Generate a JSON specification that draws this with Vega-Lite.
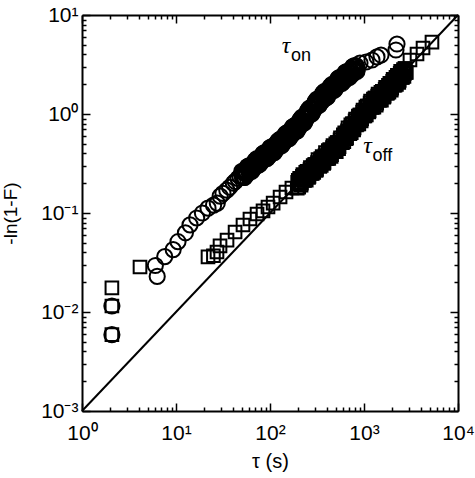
{
  "$schema": "https://vega.github.io/schema/vega-lite/v6.json",
  "width": 376,
  "height": 396,
  "autosize": {"type": "none"},
  "padding": {"left": 82, "top": 15, "right": 17, "bottom": 67},
  "background": "white",
  "datasets": {
    "on": [
      {"t": 2.08, "f": 0.0059}, {"t": 2.08, "f": 0.0115},
      {"t": 6.31, "f": 0.0229}, {"t": 6.03, "f": 0.0295}, {"t": 7.59, "f": 0.0363}, {"t": 9.33, "f": 0.0427},
      {"t": 10.5, "f": 0.0513}, {"t": 12.6, "f": 0.0631}, {"t": 14.1, "f": 0.0759}, {"t": 16.6, "f": 0.0891},
      {"t": 19.1, "f": 0.1}, {"t": 21.9, "f": 0.112}, {"t": 25.1, "f": 0.12}, {"t": 27.5, "f": 0.126},
      {"t": 29.5, "f": 0.148}, {"t": 31.6, "f": 0.158}, {"t": 34.7, "f": 0.17}, {"t": 37.2, "f": 0.182},
      {"t": 40.7, "f": 0.2}, {"t": 42.7, "f": 0.209}, {"t": 45.7, "f": 0.224}, {"t": 47.9, "f": 0.234},
      {"t": 50.1, "f": 0.263}, {"t": 51.3, "f": 0.229}, {"t": 52.5, "f": 0.257}, {"t": 53.7, "f": 0.229},
      {"t": 55.0, "f": 0.269}, {"t": 56.2, "f": 0.251}, {"t": 57.5, "f": 0.295}, {"t": 58.9, "f": 0.275},
      {"t": 60.3, "f": 0.302}, {"t": 61.7, "f": 0.263}, {"t": 63.1, "f": 0.295}, {"t": 64.6, "f": 0.269},
      {"t": 66.1, "f": 0.309}, {"t": 67.6, "f": 0.288}, {"t": 69.2, "f": 0.339}, {"t": 70.8, "f": 0.316},
      {"t": 72.4, "f": 0.355}, {"t": 74.1, "f": 0.302}, {"t": 75.9, "f": 0.339}, {"t": 77.6, "f": 0.309},
      {"t": 79.4, "f": 0.363}, {"t": 81.3, "f": 0.339}, {"t": 83.2, "f": 0.389}, {"t": 85.1, "f": 0.363},
      {"t": 87.1, "f": 0.407}, {"t": 89.1, "f": 0.355}, {"t": 91.2, "f": 0.389}, {"t": 93.3, "f": 0.355},
      {"t": 95.5, "f": 0.417}, {"t": 97.7, "f": 0.389}, {"t": 100, "f": 0.457}, {"t": 102, "f": 0.417},
      {"t": 105, "f": 0.468}, {"t": 107, "f": 0.407}, {"t": 110, "f": 0.457}, {"t": 112, "f": 0.417},
      {"t": 115, "f": 0.49}, {"t": 117, "f": 0.457}, {"t": 120, "f": 0.525}, {"t": 123, "f": 0.49},
      {"t": 126, "f": 0.55}, {"t": 129, "f": 0.479}, {"t": 132, "f": 0.537}, {"t": 135, "f": 0.49},
      {"t": 138, "f": 0.575}, {"t": 141, "f": 0.537}, {"t": 145, "f": 0.617}, {"t": 148, "f": 0.575},
      {"t": 151, "f": 0.646}, {"t": 155, "f": 0.562}, {"t": 158, "f": 0.631}, {"t": 162, "f": 0.575},
      {"t": 166, "f": 0.676}, {"t": 170, "f": 0.631}, {"t": 174, "f": 0.741}, {"t": 178, "f": 0.676},
      {"t": 182, "f": 0.759}, {"t": 186, "f": 0.661}, {"t": 191, "f": 0.741}, {"t": 195, "f": 0.676},
      {"t": 200, "f": 0.794}, {"t": 204, "f": 0.741}, {"t": 209, "f": 0.871}, {"t": 214, "f": 0.813},
      {"t": 219, "f": 0.933}, {"t": 224, "f": 0.813}, {"t": 229, "f": 0.912}, {"t": 234, "f": 0.832},
      {"t": 240, "f": 0.977}, {"t": 245, "f": 0.912}, {"t": 251, "f": 1.072}, {"t": 257, "f": 1.0},
      {"t": 263, "f": 1.148}, {"t": 269, "f": 1.0}, {"t": 275, "f": 1.122}, {"t": 282, "f": 1.023},
      {"t": 288, "f": 1.202}, {"t": 295, "f": 1.122}, {"t": 302, "f": 1.318}, {"t": 309, "f": 1.259},
      {"t": 316, "f": 1.413}, {"t": 324, "f": 1.23}, {"t": 331, "f": 1.38}, {"t": 339, "f": 1.259},
      {"t": 347, "f": 1.479}, {"t": 355, "f": 1.38}, {"t": 363, "f": 1.622}, {"t": 372, "f": 1.514},
      {"t": 380, "f": 1.698}, {"t": 389, "f": 1.445}, {"t": 398, "f": 1.622}, {"t": 407, "f": 1.479},
      {"t": 417, "f": 1.738}, {"t": 427, "f": 1.622}, {"t": 437, "f": 1.905}, {"t": 447, "f": 1.778},
      {"t": 457, "f": 1.995}, {"t": 468, "f": 1.738}, {"t": 479, "f": 1.95}, {"t": 490, "f": 1.778},
      {"t": 501, "f": 2.042}, {"t": 513, "f": 1.905}, {"t": 525, "f": 2.239}, {"t": 537, "f": 2.089},
      {"t": 550, "f": 2.344}, {"t": 562, "f": 2.042}, {"t": 575, "f": 2.291}, {"t": 589, "f": 2.089},
      {"t": 603, "f": 2.399}, {"t": 617, "f": 2.239}, {"t": 631, "f": 2.63}, {"t": 646, "f": 2.455},
      {"t": 661, "f": 2.692}, {"t": 676, "f": 2.344}, {"t": 692, "f": 2.63}, {"t": 708, "f": 2.399},
      {"t": 724, "f": 2.754}, {"t": 741, "f": 2.57}, {"t": 759, "f": 3.02}, {"t": 776, "f": 2.818},
      {"t": 794, "f": 3.09}, {"t": 813, "f": 2.692}, {"t": 832, "f": 3.02}, {"t": 851, "f": 2.884},
      {"t": 906, "f": 3.27}, {"t": 1050, "f": 3.35}, {"t": 1216, "f": 3.51}, {"t": 1374, "f": 3.77},
      {"t": 1517, "f": 3.94}, {"t": 2188, "f": 4.43}, {"t": 2244, "f": 5.09},
      {"t": 50.7, "f": 0.234}, {"t": 51.9, "f": 0.263}, {"t": 53.1, "f": 0.229}, {"t": 54.3, "f": 0.269},
      {"t": 55.6, "f": 0.263}, {"t": 56.9, "f": 0.245}, {"t": 58.2, "f": 0.295}, {"t": 59.6, "f": 0.263},
      {"t": 61.0, "f": 0.275}, {"t": 62.4, "f": 0.302}, {"t": 63.8, "f": 0.263}, {"t": 65.3, "f": 0.309},
      {"t": 66.8, "f": 0.302}, {"t": 68.4, "f": 0.288}, {"t": 70.0, "f": 0.339}, {"t": 71.6, "f": 0.302},
      {"t": 73.3, "f": 0.316}, {"t": 75.0, "f": 0.355}, {"t": 76.7, "f": 0.309}, {"t": 78.5, "f": 0.355},
      {"t": 80.3, "f": 0.347}, {"t": 82.2, "f": 0.331}, {"t": 84.1, "f": 0.398}, {"t": 86.1, "f": 0.355},
      {"t": 88.1, "f": 0.363}, {"t": 90.1, "f": 0.407}, {"t": 92.2, "f": 0.355}, {"t": 94.4, "f": 0.417},
      {"t": 96.6, "f": 0.398}, {"t": 98.9, "f": 0.38}, {"t": 101, "f": 0.457}, {"t": 104, "f": 0.407},
      {"t": 106, "f": 0.427}, {"t": 108, "f": 0.468}, {"t": 111, "f": 0.407}, {"t": 114, "f": 0.479},
      {"t": 116, "f": 0.468}, {"t": 119, "f": 0.447}, {"t": 122, "f": 0.537}, {"t": 124, "f": 0.479},
      {"t": 127, "f": 0.501}, {"t": 130, "f": 0.562}, {"t": 133, "f": 0.479}, {"t": 136, "f": 0.562},
      {"t": 140, "f": 0.55}, {"t": 143, "f": 0.525}, {"t": 146, "f": 0.631}, {"t": 150, "f": 0.562},
      {"t": 153, "f": 0.589}, {"t": 157, "f": 0.661}, {"t": 160, "f": 0.562}, {"t": 164, "f": 0.661},
      {"t": 168, "f": 0.646}, {"t": 172, "f": 0.617}, {"t": 176, "f": 0.741}, {"t": 180, "f": 0.661},
      {"t": 184, "f": 0.692}, {"t": 188, "f": 0.776}, {"t": 193, "f": 0.676}, {"t": 197, "f": 0.794},
      {"t": 202, "f": 0.776}, {"t": 207, "f": 0.741}, {"t": 211, "f": 0.891}, {"t": 216, "f": 0.794},
      {"t": 221, "f": 0.832}, {"t": 226, "f": 0.933}, {"t": 232, "f": 0.813}, {"t": 237, "f": 0.977},
      {"t": 243, "f": 0.955}, {"t": 248, "f": 0.912}, {"t": 254, "f": 1.096}, {"t": 260, "f": 0.977},
      {"t": 266, "f": 1.023}, {"t": 272, "f": 1.148}, {"t": 279, "f": 1.0}, {"t": 285, "f": 1.202},
      {"t": 292, "f": 1.175}, {"t": 299, "f": 1.122}, {"t": 305, "f": 1.349}, {"t": 313, "f": 1.202},
      {"t": 320, "f": 1.259}, {"t": 327, "f": 1.413}, {"t": 335, "f": 1.23}, {"t": 343, "f": 1.445},
      {"t": 351, "f": 1.413}, {"t": 359, "f": 1.349}, {"t": 367, "f": 1.622}, {"t": 376, "f": 1.445},
      {"t": 385, "f": 1.514}, {"t": 393, "f": 1.698}, {"t": 402, "f": 1.479}, {"t": 412, "f": 1.738},
      {"t": 422, "f": 1.698}, {"t": 432, "f": 1.622}, {"t": 442, "f": 1.905}, {"t": 452, "f": 1.698},
      {"t": 462, "f": 1.778}, {"t": 473, "f": 1.995}, {"t": 484, "f": 1.738}, {"t": 495, "f": 2.042},
      {"t": 507, "f": 1.995}, {"t": 519, "f": 1.905}, {"t": 531, "f": 2.291}, {"t": 543, "f": 2.042},
      {"t": 556, "f": 2.138}, {"t": 569, "f": 2.344}, {"t": 582, "f": 2.042}, {"t": 596, "f": 2.399},
      {"t": 610, "f": 2.344}, {"t": 624, "f": 2.188}, {"t": 638, "f": 2.63}, {"t": 653, "f": 2.344},
      {"t": 668, "f": 2.455}, {"t": 684, "f": 2.692}, {"t": 700, "f": 2.344}, {"t": 716, "f": 2.754},
      {"t": 732, "f": 2.692}, {"t": 750, "f": 2.512}, {"t": 767, "f": 3.02}, {"t": 785, "f": 2.692},
      {"t": 804, "f": 2.818}, {"t": 822, "f": 3.09}, {"t": 841, "f": 2.692}
    ],
    "off": [
      {"t": 2.08, "f": 0.0175}, {"t": 2.08, "f": 0.0115}, {"t": 2.08, "f": 0.0059}, {"t": 4.14, "f": 0.0285},
      {"t": 21.9, "f": 0.036}, {"t": 25, "f": 0.037}, {"t": 27.3, "f": 0.0404}, {"t": 29.4, "f": 0.0465},
      {"t": 34.9, "f": 0.0533}, {"t": 42.5, "f": 0.0643}, {"t": 51.6, "f": 0.0757}, {"t": 61.2, "f": 0.0869},
      {"t": 72.8, "f": 0.0977}, {"t": 84.3, "f": 0.105}, {"t": 95.2, "f": 0.115}, {"t": 108, "f": 0.126},
      {"t": 128, "f": 0.145}, {"t": 148, "f": 0.163}, {"t": 171, "f": 0.179},
      {"t": 195, "f": 0.178}, {"t": 200, "f": 0.214}, {"t": 204, "f": 0.195}, {"t": 209, "f": 0.219},
      {"t": 214, "f": 0.191}, {"t": 219, "f": 0.219}, {"t": 224, "f": 0.245}, {"t": 229, "f": 0.214},
      {"t": 234, "f": 0.214}, {"t": 240, "f": 0.257}, {"t": 245, "f": 0.234}, {"t": 251, "f": 0.263},
      {"t": 257, "f": 0.229}, {"t": 263, "f": 0.257}, {"t": 269, "f": 0.288}, {"t": 275, "f": 0.251},
      {"t": 282, "f": 0.251}, {"t": 288, "f": 0.302}, {"t": 295, "f": 0.275}, {"t": 302, "f": 0.309},
      {"t": 309, "f": 0.269}, {"t": 316, "f": 0.309}, {"t": 324, "f": 0.347}, {"t": 331, "f": 0.302},
      {"t": 339, "f": 0.295}, {"t": 347, "f": 0.355}, {"t": 355, "f": 0.324}, {"t": 363, "f": 0.363},
      {"t": 372, "f": 0.316}, {"t": 380, "f": 0.363}, {"t": 389, "f": 0.407}, {"t": 398, "f": 0.355},
      {"t": 407, "f": 0.355}, {"t": 417, "f": 0.427}, {"t": 427, "f": 0.38}, {"t": 437, "f": 0.427},
      {"t": 447, "f": 0.372}, {"t": 457, "f": 0.427}, {"t": 468, "f": 0.479}, {"t": 479, "f": 0.417},
      {"t": 490, "f": 0.417}, {"t": 501, "f": 0.501}, {"t": 513, "f": 0.457}, {"t": 525, "f": 0.513},
      {"t": 537, "f": 0.447}, {"t": 550, "f": 0.513}, {"t": 562, "f": 0.575}, {"t": 575, "f": 0.513},
      {"t": 589, "f": 0.513}, {"t": 603, "f": 0.617}, {"t": 617, "f": 0.562}, {"t": 631, "f": 0.631},
      {"t": 646, "f": 0.562}, {"t": 661, "f": 0.646}, {"t": 676, "f": 0.724}, {"t": 692, "f": 0.631},
      {"t": 708, "f": 0.631}, {"t": 724, "f": 0.776}, {"t": 741, "f": 0.708}, {"t": 759, "f": 0.794},
      {"t": 776, "f": 0.692}, {"t": 794, "f": 0.794}, {"t": 813, "f": 0.891}, {"t": 832, "f": 0.776},
      {"t": 851, "f": 0.794}, {"t": 871, "f": 0.955}, {"t": 891, "f": 0.871}, {"t": 912, "f": 0.977},
      {"t": 933, "f": 0.851}, {"t": 955, "f": 0.977}, {"t": 977, "f": 1.096}, {"t": 1000, "f": 0.955},
      {"t": 1023, "f": 0.955}, {"t": 1047, "f": 1.175}, {"t": 1072, "f": 1.072}, {"t": 1096, "f": 1.202},
      {"t": 1122, "f": 1.047}, {"t": 1148, "f": 1.202}, {"t": 1175, "f": 1.349}, {"t": 1202, "f": 1.175},
      {"t": 1230, "f": 1.175}, {"t": 1259, "f": 1.413}, {"t": 1288, "f": 1.288}, {"t": 1318, "f": 1.445},
      {"t": 1349, "f": 1.23}, {"t": 1380, "f": 1.413}, {"t": 1413, "f": 1.585}, {"t": 1445, "f": 1.38},
      {"t": 1479, "f": 1.38}, {"t": 1514, "f": 1.66}, {"t": 1549, "f": 1.514}, {"t": 1585, "f": 1.698},
      {"t": 1622, "f": 1.479}, {"t": 1660, "f": 1.698}, {"t": 1698, "f": 1.862}, {"t": 1738, "f": 1.622},
      {"t": 1778, "f": 1.622}, {"t": 1820, "f": 1.95}, {"t": 1862, "f": 1.778}, {"t": 1905, "f": 1.995},
      {"t": 1950, "f": 1.738}, {"t": 1995, "f": 1.995}, {"t": 2042, "f": 2.239}, {"t": 2089, "f": 1.95},
      {"t": 2138, "f": 1.95}, {"t": 2188, "f": 2.344}, {"t": 2239, "f": 2.138}, {"t": 2291, "f": 2.399},
      {"t": 2344, "f": 2.089}, {"t": 2399, "f": 2.399}, {"t": 2455, "f": 2.692}, {"t": 2512, "f": 2.344},
      {"t": 2570, "f": 2.344}, {"t": 2630, "f": 2.818}, {"t": 2692, "f": 2.57}, {"t": 2754, "f": 2.884},
      {"t": 2818, "f": 2.63},
      {"t": 3083, "f": 3.51}, {"t": 3664, "f": 4.04}, {"t": 4246, "f": 4.64}, {"t": 5285, "f": 5.33},
      {"t": 197, "f": 0.204}, {"t": 202, "f": 0.182}, {"t": 207, "f": 0.224}, {"t": 211, "f": 0.204},
      {"t": 216, "f": 0.2}, {"t": 221, "f": 0.234}, {"t": 226, "f": 0.219}, {"t": 232, "f": 0.214},
      {"t": 237, "f": 0.24}, {"t": 243, "f": 0.214}, {"t": 248, "f": 0.263}, {"t": 254, "f": 0.24},
      {"t": 260, "f": 0.234}, {"t": 266, "f": 0.275}, {"t": 272, "f": 0.263}, {"t": 279, "f": 0.257},
      {"t": 285, "f": 0.288}, {"t": 292, "f": 0.257}, {"t": 299, "f": 0.309}, {"t": 305, "f": 0.282},
      {"t": 313, "f": 0.275}, {"t": 320, "f": 0.324}, {"t": 327, "f": 0.309}, {"t": 335, "f": 0.302},
      {"t": 343, "f": 0.339}, {"t": 351, "f": 0.302}, {"t": 359, "f": 0.372}, {"t": 367, "f": 0.339},
      {"t": 376, "f": 0.324}, {"t": 385, "f": 0.38}, {"t": 393, "f": 0.363}, {"t": 402, "f": 0.355},
      {"t": 412, "f": 0.398}, {"t": 422, "f": 0.355}, {"t": 432, "f": 0.437}, {"t": 442, "f": 0.398},
      {"t": 452, "f": 0.389}, {"t": 462, "f": 0.457}, {"t": 473, "f": 0.437}, {"t": 484, "f": 0.417},
      {"t": 495, "f": 0.468}, {"t": 507, "f": 0.417}, {"t": 519, "f": 0.513}, {"t": 531, "f": 0.479},
      {"t": 543, "f": 0.468}, {"t": 556, "f": 0.55}, {"t": 569, "f": 0.525}, {"t": 582, "f": 0.513},
      {"t": 596, "f": 0.575}, {"t": 610, "f": 0.525}, {"t": 624, "f": 0.646}, {"t": 638, "f": 0.589},
      {"t": 653, "f": 0.575}, {"t": 668, "f": 0.676}, {"t": 684, "f": 0.661}, {"t": 700, "f": 0.646},
      {"t": 716, "f": 0.724}, {"t": 732, "f": 0.646}, {"t": 750, "f": 0.794}, {"t": 767, "f": 0.724},
      {"t": 785, "f": 0.724}, {"t": 804, "f": 0.851}, {"t": 822, "f": 0.813}, {"t": 841, "f": 0.794},
      {"t": 861, "f": 0.891}, {"t": 881, "f": 0.794}, {"t": 901, "f": 0.977}, {"t": 922, "f": 0.891},
      {"t": 944, "f": 0.891}, {"t": 966, "f": 1.047}, {"t": 988, "f": 1.0}, {"t": 1012, "f": 0.977},
      {"t": 1035, "f": 1.096}, {"t": 1059, "f": 0.977}, {"t": 1084, "f": 1.202}, {"t": 1109, "f": 1.096},
      {"t": 1135, "f": 1.072}, {"t": 1161, "f": 1.288}, {"t": 1189, "f": 1.23}, {"t": 1216, "f": 1.175},
      {"t": 1245, "f": 1.318}, {"t": 1274, "f": 1.175}, {"t": 1303, "f": 1.445}, {"t": 1334, "f": 1.318},
      {"t": 1365, "f": 1.288}, {"t": 1397, "f": 1.514}, {"t": 1429, "f": 1.445}, {"t": 1462, "f": 1.413},
      {"t": 1497, "f": 1.549}, {"t": 1532, "f": 1.38}, {"t": 1567, "f": 1.698}, {"t": 1604, "f": 1.549},
      {"t": 1641, "f": 1.514}, {"t": 1679, "f": 1.778}, {"t": 1718, "f": 1.698}, {"t": 1758, "f": 1.66},
      {"t": 1799, "f": 1.862}, {"t": 1841, "f": 1.66}, {"t": 1884, "f": 2.042}, {"t": 1928, "f": 1.862},
      {"t": 1972, "f": 1.82}, {"t": 2018, "f": 2.138}, {"t": 2065, "f": 2.042}, {"t": 2113, "f": 1.995},
      {"t": 2163, "f": 2.239}, {"t": 2213, "f": 1.995}, {"t": 2265, "f": 2.455}, {"t": 2317, "f": 2.239},
      {"t": 2371, "f": 2.188}, {"t": 2427, "f": 2.57}, {"t": 2483, "f": 2.455}, {"t": 2541, "f": 2.399},
      {"t": 2600, "f": 2.692}, {"t": 2661, "f": 2.399}, {"t": 2723, "f": 2.884}, {"t": 2786, "f": 2.63}
    ],
    "diag": [{"t": 1, "f": 0.001}, {"t": 10000, "f": 10}],
    "lab": [{"t": 148, "f": 4.86, "sub": "on"}, {"t": 1089, "f": 0.475, "sub": "off"}]
  },
  "layer": [
    {
      "data": {"name": "on"},
      "mark": {"type": "point", "shape": "circle", "filled": false, "color": "black", "strokeWidth": 2, "size": 230, "opacity": 1},
      "encoding": {
        "x": {
          "field": "t", "type": "quantitative",
          "scale": {"type": "log", "domain": [1, 10000], "nice": false},
          "axis": {
            "orient": "bottom", "title": "τ (s)",
            "values": [1, 2, 3, 4, 5, 6, 7, 8, 9, 10, 20, 30, 40, 50, 60, 70, 80, 90, 100, 200, 300, 400, 500, 600, 700, 800, 900, 1000, 2000, 3000, 4000, 5000, 6000, 7000, 8000, 9000, 10000],
            "labelExpr": "datum.value == 1 ? '10⁰' : datum.value == 10 ? '10¹' : datum.value == 100 ? '10²' : datum.value == 1000 ? '10³' : datum.value == 10000 ? '10⁴' : ''",
            "tickSize": {"condition": {"test": "abs(log(datum.value) / LN10 - round(log(datum.value) / LN10)) < 0.0001", "value": -8}, "value": -4},
            "labelPadding": 19, "titlePadding": 4, "titleColor": "black"
          }
        },
        "y": {
          "field": "f", "type": "quantitative",
          "scale": {"type": "log", "domain": [0.001, 10], "nice": false},
          "axis": {
            "orient": "left", "title": "-ln(1-F)",
            "values": [0.001, 0.002, 0.003, 0.004, 0.005, 0.006, 0.007, 0.008, 0.009, 0.01, 0.02, 0.03, 0.04, 0.05, 0.06, 0.07, 0.08, 0.09, 0.1, 0.2, 0.3, 0.4, 0.5, 0.6, 0.7, 0.8, 0.9, 1, 2, 3, 4, 5, 6, 7, 8, 9, 10],
            "labelExpr": "datum.value == 0.001 ? '10⁻³' : datum.value == 0.01 ? '10⁻²' : datum.value == 0.1 ? '10⁻¹' : datum.value == 1 ? '10⁰' : datum.value == 10 ? '10¹' : ''",
            "tickSize": {"condition": {"test": "abs(log(datum.value) / LN10 - round(log(datum.value) / LN10)) < 0.0001", "value": -8}, "value": -4},
            "labelPadding": 12, "titlePadding": 20, "titleFontSize": 19, "titleColor": "black"
          }
        }
      }
    },
    {
      "data": {"name": "off"},
      "mark": {"type": "point", "shape": "square", "filled": false, "color": "black", "strokeWidth": 2, "size": 160, "opacity": 1},
      "encoding": {
        "x": {"field": "t", "type": "quantitative", "axis": null},
        "y": {"field": "f", "type": "quantitative", "axis": null}
      }
    },
    {
      "data": {"name": "diag"},
      "mark": {"type": "line", "color": "black", "strokeWidth": 2},
      "encoding": {
        "x": {
          "field": "t", "type": "quantitative",
          "axis": {
            "orient": "top", "title": null, "labels": false,
            "values": [1, 2, 3, 4, 5, 6, 7, 8, 9, 10, 20, 30, 40, 50, 60, 70, 80, 90, 100, 200, 300, 400, 500, 600, 700, 800, 900, 1000, 2000, 3000, 4000, 5000, 6000, 7000, 8000, 9000, 10000],
            "tickSize": {"condition": {"test": "abs(log(datum.value) / LN10 - round(log(datum.value) / LN10)) < 0.0001", "value": -8}, "value": -4}
          }
        },
        "y": {
          "field": "f", "type": "quantitative",
          "axis": {
            "orient": "right", "title": null, "labels": false,
            "values": [0.001, 0.002, 0.003, 0.004, 0.005, 0.006, 0.007, 0.008, 0.009, 0.01, 0.02, 0.03, 0.04, 0.05, 0.06, 0.07, 0.08, 0.09, 0.1, 0.2, 0.3, 0.4, 0.5, 0.6, 0.7, 0.8, 0.9, 1, 2, 3, 4, 5, 6, 7, 8, 9, 10],
            "tickSize": {"condition": {"test": "abs(log(datum.value) / LN10 - round(log(datum.value) / LN10)) < 0.0001", "value": -8}, "value": -4}
          }
        }
      }
    },
    {
      "data": {"name": "lab"},
      "mark": {"type": "text", "text": "τ", "font": "Liberation Serif", "fontStyle": "italic", "fontSize": 24, "align": "center", "baseline": "middle", "color": "black"},
      "encoding": {
        "x": {"field": "t", "type": "quantitative", "axis": null},
        "y": {"field": "f", "type": "quantitative", "axis": null}
      }
    },
    {
      "data": {"name": "lab"},
      "mark": {"type": "text", "font": "Liberation Sans", "fontSize": 18, "align": "left", "baseline": "alphabetic", "dx": 5, "dy": 15, "color": "black"},
      "encoding": {
        "x": {"field": "t", "type": "quantitative", "axis": null},
        "y": {"field": "f", "type": "quantitative", "axis": null},
        "text": {"field": "sub"}
      }
    }
  ],
  "resolve": {"axis": {"x": "independent", "y": "independent"}},
  "config": {
    "view": {"stroke": null},
    "axis": {
      "grid": false,
      "domainColor": "black", "domainWidth": 2,
      "tickColor": "black", "tickWidth": 1.5,
      "labelFont": "Liberation Sans", "labelFontSize": 21, "labelColor": "black",
      "labelFlush": false, "labelOverlap": false,
      "titleFont": "Liberation Sans", "titleFontSize": 20, "titleFontWeight": "normal", "titleColor": "black"
    }
  }
}
